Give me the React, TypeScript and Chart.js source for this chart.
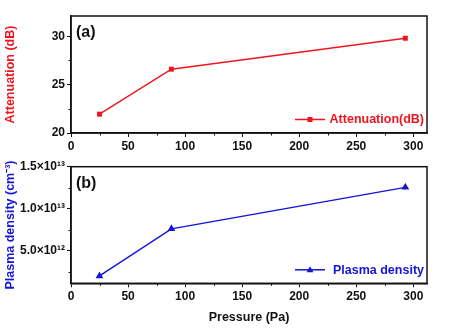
import React, { useEffect, useRef } from "react";
import { Chart, registerables } from "chart.js";

Chart.register(...registerables);

const pressure = [25, 88, 293];
const attenuation = [21.95, 26.6, 29.8];
const plasmaDensity = [2.0e12, 7.6e12, 1.254e13];
const xTicks = [0, 50, 100, 150, 200, 250, 300];
const xMinorTicks = [25, 75, 125, 175, 225, 275];
const attTicks = [20, 25, 30];
const attMinorTicks = [22.5, 27.5];
const densTicks = [5e12, 1e13, 1.5e13];
const densMinorTicks = [2.5e12, 7.5e12, 1.25e13];

const RED = "#ee1520";
const BLUE = "#1515d8";
const FONT = "'Liberation Sans', Arial, sans-serif";

const sup: Record<string, string> = { "0": "⁰", "1": "¹", "2": "²", "3": "³", "4": "⁴", "5": "⁵", "6": "⁶", "7": "⁷", "8": "⁸", "9": "⁹" };
function sci(v: number) {
  const e = Math.floor(Math.log10(v) + 1e-9);
  const m = v / Math.pow(10, e);
  return m.toFixed(1) + "×10" + String(e).split("").map((c) => sup[c]).join("");
}

function makePlugin(panel: string, color: string, marker: string, xMinor: number[], yMinor: number[]) {
  return {
    id: "decor" + panel,
    afterDraw(chart: any) {
      const { ctx, chartArea: a, scales } = chart;
      ctx.save();
      ctx.strokeStyle = "#111";
      ctx.lineWidth = 1.5;
      ctx.strokeRect(a.left, a.top, a.right - a.left, a.bottom - a.top);
      ctx.lineWidth = 1;
      ctx.beginPath();
      xMinor.forEach((v) => {
        const x = Math.round(scales.x.getPixelForValue(v)) + 0.5;
        ctx.moveTo(x, a.bottom);
        ctx.lineTo(x, a.bottom + 2.5);
      });
      yMinor.forEach((v) => {
        const y = Math.round(scales.y.getPixelForValue(v)) + 0.5;
        ctx.moveTo(a.left, y);
        ctx.lineTo(a.left - 2.5, y);
      });
      ctx.stroke();
      // panel label
      ctx.fillStyle = "#111";
      ctx.font = "bold 16px " + FONT;
      ctx.textBaseline = "middle";
      ctx.textAlign = "left";
      ctx.fillText(panel, a.left + 5, a.top + 17);
      // legend
      const ds = chart.data.datasets[0];
      const ly = a.bottom - 13.5;
      const lx = a.right - 132;
      ctx.strokeStyle = color;
      ctx.lineWidth = 1.5;
      ctx.beginPath();
      ctx.moveTo(lx, ly);
      ctx.lineTo(lx + 30, ly);
      ctx.stroke();
      ctx.fillStyle = color;
      if (marker === "rect") {
        ctx.fillRect(lx + 12.5, ly - 2.5, 5, 5);
      } else {
        ctx.beginPath();
        ctx.moveTo(lx + 15, ly - 3.5);
        ctx.lineTo(lx + 18.5, ly + 2.5);
        ctx.lineTo(lx + 11.5, ly + 2.5);
        ctx.closePath();
        ctx.fill();
      }
      ctx.font = "bold 12.5px " + FONT;
      ctx.textAlign = "right";
      ctx.fillText(ds.label, a.right - 3, ly + 0.5);
      ctx.restore();
    },
  };
}

function baseOptions(opts: any) {
  const { yMin, yMax, yTicks, yFmt, yTitle, yColor, showXTitle, padTop, padBottom } = opts;
  return {
    animation: false,
    responsive: false,
    maintainAspectRatio: false,
    layout: { padding: { top: padTop, right: 47, left: 0, bottom: padBottom } },
    plugins: { legend: { display: false }, tooltip: { enabled: false } },
    scales: {
      x: {
        type: "linear",
        min: 0,
        max: 312,
        afterBuildTicks: (s: any) => {
          s.ticks = xTicks.map((v) => ({ value: v }));
        },
        afterFit: (s: any) => {
          s.height = showXTitle ? 51.7 : 17;
        },
        ticks: {
          color: "#111",
          font: { family: FONT, weight: "bold", size: 12 },
          padding: 2,
          maxRotation: 0,
          autoSkip: false,
        },
        grid: { drawOnChartArea: false, drawTicks: true, tickLength: 4, tickColor: "#111", tickWidth: 1 },
        border: { display: true, color: "#111", width: 1.5 },
        title: {
          display: showXTitle,
          text: "Pressure (Pa)",
          color: "#111",
          font: { family: FONT, weight: "bold", size: 12.5 },
          padding: { top: 0, bottom: 10 },
        },
      },
      y: {
        type: "linear",
        min: yMin,
        max: yMax,
        afterBuildTicks: (s: any) => {
          s.ticks = yTicks.map((v: number) => ({ value: v }));
        },
        afterFit: (s: any) => {
          s.width = 71;
        },
        ticks: {
          color: "#111",
          font: { family: FONT, weight: "bold", size: 12 },
          padding: 2,
          callback: yFmt,
          autoSkip: false,
        },
        grid: { drawOnChartArea: false, drawTicks: true, tickLength: 4, tickColor: "#111", tickWidth: 1 },
        border: { display: true, color: "#111", width: 1.5 },
        title: {
          display: true,
          text: yTitle,
          color: yColor,
          font: { family: FONT, weight: "bold", size: 12.5 },
          padding: { top: 3, bottom: 0 },
        },
      },
    },
  };
}

function Panel({ top, height, which }: { top: number; height: number; which: "a" | "b" }) {
  const ref = useRef<HTMLCanvasElement>(null);
  useEffect(() => {
    if (!ref.current) return;
    const isA = which === "a";
    const color = isA ? RED : BLUE;
    const values = isA ? attenuation : plasmaDensity;
    const chart = new Chart(ref.current, {
      type: "line",
      data: {
        datasets: [
          {
            label: isA ? "Attenuation(dB)" : "Plasma density",
            data: pressure.map((p, i) => ({ x: p, y: values[i] })),
            borderColor: color,
            backgroundColor: color,
            borderWidth: 1.5,
            pointStyle: isA ? "rect" : "triangle",
            pointRadius: isA ? 3.5 : 4.5,
            pointBorderWidth: 0,
            tension: 0,
          },
        ],
      },
      options: baseOptions(
        isA
          ? {
              yMin: 20,
              yMax: 32.1,
              yTicks: attTicks,
              yFmt: (v: number) => String(v),
              yTitle: "Attenuation (dB)",
              yColor: RED,
              showXTitle: false,
              padTop: 16,
              padBottom: 12,
            }
          : {
              yMin: 1.12e12,
              yMax: 1.5e13,
              yTicks: densTicks,
              yFmt: (v: number) => sci(v),
              yTitle: "Plasma density (cm⁻³)",
              yColor: BLUE,
              showXTitle: true,
              padTop: 16.7,
              padBottom: 0,
            }
      ) as any,
      plugins: [
        makePlugin(isA ? "(a)" : "(b)", color, isA ? "rect" : "tri", xMinorTicks, isA ? attMinorTicks : densMinorTicks),
      ],
    });
    return () => chart.destroy();
  }, [which]);
  return (
    <canvas
      ref={ref}
      width={474}
      height={height}
      style={{ position: "absolute", left: 0, top, width: 474, height }}
    />
  );
}

export default function App() {
  useEffect(() => {
    document.body.style.margin = "0";
  }, []);
  return (
    <div style={{ position: "relative", width: 474, height: 335, background: "#fff", overflow: "hidden" }}>
      <Panel top={0} height={162} which="a" />
      <Panel top={150} height={185} which="b" />
    </div>
  );
}
